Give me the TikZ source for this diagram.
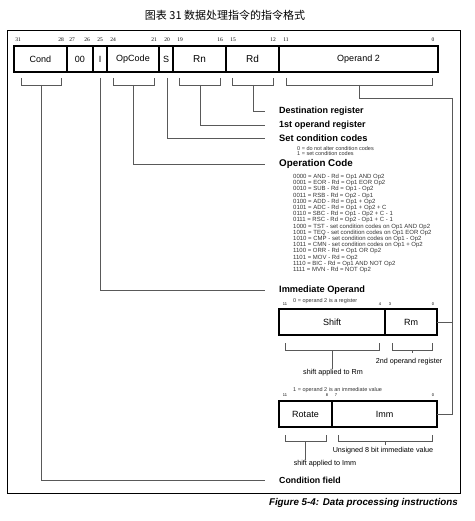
\documentclass[tikz,border=0pt]{standalone}
\usepackage{fontspec}
\setmainfont{Liberation Sans}
\newfontfamily\cjk{Noto Sans CJK SC}
\newfontfamily\bitserif{Liberation Serif}
\usetikzlibrary{positioning}

\begin{document}
\begin{tikzpicture}[x=1pt, y=-1pt]
        \tikzstyle{field} = [rectangle, draw, line width=1.3pt, minimum height=26pt, inner sep=0pt, outer sep=0pt, font=\fontsize{9}{10}\selectfont]
        \tikzstyle{bitnum} = [inner sep=0pt, font=\bitserif\fontsize{5.5}{6}\selectfont]
        \tikzstyle{subbit} = [inner sep=0pt, font=\fontsize{4}{4}\selectfont]
        \tikzstyle{heading} = [anchor=west, inner sep=0pt, font=\bfseries\fontsize{9}{10}\selectfont]
        \tikzstyle{note} = [inner sep=0pt, font=\fontsize{7.2}{8}\selectfont]
        \tikzstyle{tiny} = [anchor=west, inner sep=0pt, align=left, text=black!80, font=\fontsize{5.5}{5}\selectfont]
        \tikzstyle{wire} = [draw, line width=0.6pt, black!65]

        \useasboundingbox (0,0) rectangle (474,521);

        % Title and frame
        \node [font=\cjk\fontsize{11}{13}\selectfont] (title) at (225,15) {图表 31 数据处理指令的指令格式};
        \node [draw, line width=1.2pt, minimum width=453pt, minimum height=463pt, inner sep=0pt, anchor=north west] (frame) at (7,30) {};

        % Instruction word
        \node [field, minimum width=53pt, anchor=north west] (cond) at (14,46) {Cond};
        \node [field, minimum width=26pt, right=0pt of cond] (zz) {00};
        \node [field, minimum width=14pt, right=0pt of zz] (ibit) {I};
        \node [field, minimum width=52pt, right=0pt of ibit] (opcode) {OpCode};
        \node [field, minimum width=14pt, right=0pt of opcode] (sbit) {S};
        \node [field, minimum width=53pt, right=0pt of sbit, font=\fontsize{10}{11}\selectfont] (rn) {Rn};
        \node [field, minimum width=53pt, right=0pt of rn, font=\fontsize{10}{11}\selectfont] (rd) {Rd};
        \node [field, minimum width=159pt, right=0pt of rd] (optwo) {Operand 2};
        \foreach \b/\x in {31/18, 28/61, 27/72, 26/87, 25/100, 24/113, 21/154, 20/167, 19/180, 16/220, 15/233, 12/273, 11/286, 0/433}
            \node [bitnum] (b\b) at (\x,40) {\b};

        % Brackets under the fields
        \draw [wire] (21,78) -- (21,85) -- (61,85) -- (61,78);
        \draw [wire] (113,78) -- (113,85) -- (154,85) -- (154,78);
        \draw [wire] (179,78) -- (179,85) -- (220,85) -- (220,78);
        \draw [wire] (232,78) -- (232,85) -- (273,85) -- (273,78);
        \draw [wire] (286,78) -- (286,85) -- (432,85) -- (432,78);
        \coordinate (condb) at (41,85);
        \coordinate (ib) at (100.7,78);
        \coordinate (opb) at (133.5,85);
        \coordinate (sb) at (167,78);
        \coordinate (rnb) at (200,85);
        \coordinate (rdb) at (253,85);
        \coordinate (optwob) at (359,85);
        \coordinate (optwor) at (452,98);

        % Field descriptions
        \node [heading] (dest) at (279,111) {Destination register};
        \node [heading] (first) at (279,125) {1st operand register};
        \node [heading, font=\bfseries\fontsize{9.3}{10}\selectfont] (setcc) at (279,138) {Set condition codes};
        \node [tiny, anchor=north west] (setccnote) at (297,146.5) {0 = do not alter condition codes\\1 = set condition codes};
        \node [heading, font=\bfseries\fontsize{9.8}{11}\selectfont] (opc) at (279,164) {Operation Code};
        \node [tiny, anchor=north west, font=\fontsize{6}{6.2}\selectfont] (oplist) at (293,174) {%
            0000 = AND - Rd = Op1 AND Op2\\
            0001 = EOR - Rd = Op1 EOR Op2\\
            0010 = SUB - Rd = Op1 - Op2\\
            0011 = RSB - Rd = Op2 - Op1\\
            0100 = ADD - Rd = Op1 + Op2\\
            0101 = ADC - Rd = Op1 + Op2 + C\\
            0110 = SBC - Rd = Op1 - Op2 + C - 1\\
            0111 = RSC - Rd = Op2 - Op1 + C - 1\\
            1000 = TST - set condition codes on Op1 AND Op2\\
            1001 = TEQ - set condition codes on Op1 EOR Op2\\
            1010 = CMP - set condition codes on Op1 - Op2\\
            1011 = CMN - set condition codes on Op1 + Op2\\
            1100 = ORR - Rd = Op1 OR Op2\\
            1101 = MOV - Rd = Op2\\
            1110 = BIC - Rd = Op1 AND NOT Op2\\
            1111 = MVN - Rd = NOT Op2};
        \node [heading, font=\bfseries\fontsize{9.2}{10}\selectfont] (immop) at (279,290) {Immediate Operand};
        \node [tiny] (regnote) at (293,301) {0 = operand 2 is a register};

        % Operand 2 as a register
        \node [field, minimum width=106pt, anchor=north west] (shift) at (279,309) {Shift};
        \node [field, minimum width=52pt, right=0pt of shift] (rm) {Rm};
        \foreach \b/\x in {11/285, 4/380, 3/390, 0/433}
            \node [subbit] (s\b) at (\x,304) {\b};
        \draw [wire] (285,343) -- (285,350) -- (379,350) -- (379,343);
        \draw [wire] (392,343) -- (392,350) -- (432,350) -- (432,343);
        \coordinate (shiftb) at (332,350);
        \coordinate (rmb) at (412,350);
        \node [note] (shiftnote) at (333,373) {shift applied to Rm};
        \node [note] (rmnote) at (409,362) {2nd operand register};

        % Operand 2 as an immediate value
        \node [tiny] (immnote) at (293,390) {1 = operand 2 is an immediate value};
        \node [field, minimum width=53pt, anchor=north west] (rotate) at (279,401) {Rotate};
        \node [field, minimum width=105pt, right=0pt of rotate] (imm) {Imm};
        \foreach \b/\x in {11/285, 8/327, 7/336, 0/433}
            \node [subbit] (r\b) at (\x,395) {\b};
        \draw [wire] (285,435) -- (285,441) -- (326,441) -- (326,435);
        \draw [wire] (338,435) -- (338,441) -- (432,441) -- (432,435);
        \coordinate (rotb) at (305.5,441);
        \coordinate (immb) at (385,441);
        \node [note] (rotnote) at (325,464) {shift applied to Imm};
        \node [note] (immvalnote) at (383,451) {Unsigned 8 bit immediate value};

        \node [heading, font=\bfseries\fontsize{8.8}{10}\selectfont] (condf) at (279,480) {Condition field};
        \node [anchor=east, inner sep=0pt, font=\bfseries\itshape\fontsize{9.8}{11}\selectfont] (caption) at (458,503) {Figure 5-4: Data processing instructions};

        % Paths
        \draw [wire] (condb) |- ([xshift=-14pt]condf.west);
        \draw [wire] (ib) |- ([xshift=-14pt]immop.west);
        \draw [wire] (opb) |- ([xshift=-14pt]opc.west);
        \draw [wire] (sb) |- ([xshift=-14pt]setcc.west);
        \draw [wire] (rnb) |- ([xshift=-14pt]first.west);
        \draw [wire] (rdb) |- ([xshift=-14pt]dest.west);
        \draw [wire] (optwob) |- (optwor);
        \draw [wire] (optwor) |- (imm.east);
        \draw [wire] (optwor |- rm.east) -- (rm.east);
        \draw [wire] (shiftb) -- (shiftb |- shiftnote.north);
        \draw [wire] (rmb) -- ++(0,3);
        \draw [wire] (rotb) -- (rotb |- rotnote.north);
        \draw [wire] (immb) -- ++(0,4);
    \end{tikzpicture}
\end{document}
